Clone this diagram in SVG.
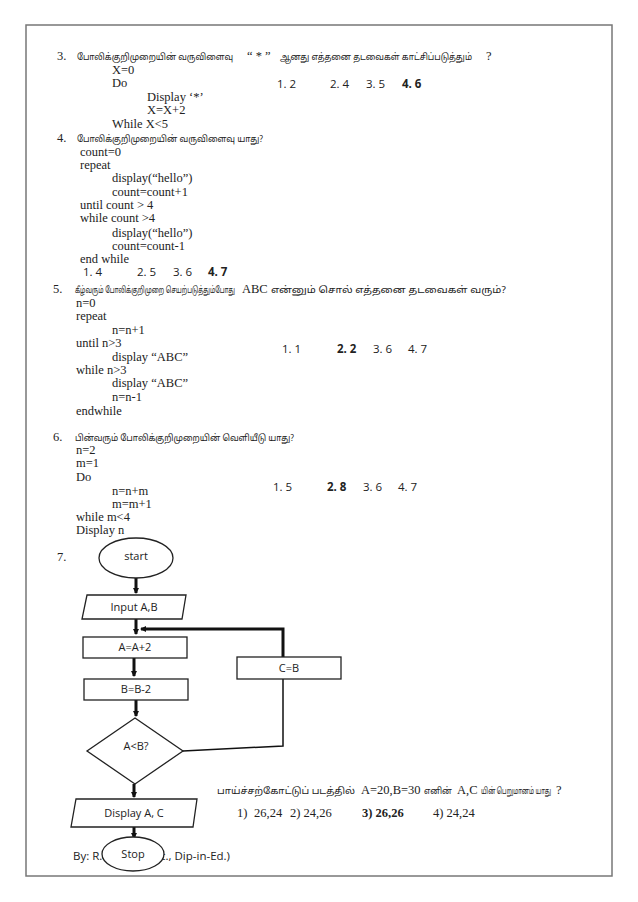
<svg xmlns="http://www.w3.org/2000/svg" width="638" height="902" viewBox="0 0 638 902">
<style>
.t{font-family:"Liberation Serif","Noto Sans Tamil","Noto Sans",serif;font-size:12.5px;fill:#222}
.ta{font-family:"Noto Sans Tamil","Noto Sans","DejaVu Sans",sans-serif;font-size:9.5px;fill:#222}
.o{font-family:"Open Sans","Liberation Sans",sans-serif;font-size:11.5px;fill:#222}
.b{font-weight:bold}
.f{font-family:"Open Sans","Liberation Sans",sans-serif;font-size:11px;fill:#222;text-anchor:middle;dominant-baseline:middle}
.n{fill:#fff;stroke:#222;stroke-width:1.3}
.c{stroke:#111;fill:none}
</style>
<defs><marker id="ah" markerWidth="6" markerHeight="6" refX="5" refY="3" orient="auto" markerUnits="userSpaceOnUse"><path d="M0,0L6,3L0,6z" fill="#111"/></marker></defs>
<rect x="26" y="25" width="586" height="851" fill="none" stroke="#777" stroke-width="1.5"/>
<g id="q3">
<text class="t" x="57" y="60">3.</text>
<text class="ta" x="77" y="60" textLength="156" lengthAdjust="spacingAndGlyphs">போலிக்குறிமுறையின் வருவிளைவு</text>
<text class="t" x="247" y="60">“ * ”</text>
<text class="ta" x="280" y="60" textLength="192" lengthAdjust="spacingAndGlyphs">ஆனது எத்தனை தடவைகள் காட்சிப்படுத்தும்</text>
<text class="t" x="486" y="60">?</text>
<text class="t" x="112" y="74">X=0</text>
<text class="t" x="112" y="87">Do</text>
<text class="t" x="147" y="101">Display ‘*’</text>
<text class="t" x="147" y="114">X=X+2</text>
<text class="t" x="112" y="128">While X&lt;5</text>
<text class="o" x="277" y="88">1.  2</text><text class="o" x="330" y="88">2. 4</text><text class="o" x="366" y="88">3.  5</text><text class="o b" x="402" y="88">4.  6</text>
</g>
<g id="q4">
<text class="t" x="57" y="142">4.</text>
<text class="ta" x="77" y="142" textLength="186" lengthAdjust="spacingAndGlyphs">போலிக்குறிமுறையின் வருவிளைவு யாது?</text>
<text class="t" x="80" y="156">count=0</text>
<text class="t" x="80" y="169">repeat</text>
<text class="t" x="112" y="182">display(“hello”)</text>
<text class="t" x="112" y="196">count=count+1</text>
<text class="t" x="80" y="209">until count &gt; 4</text>
<text class="t" x="80" y="222">while count &gt;4</text>
<text class="t" x="112" y="237">display(“hello”)</text>
<text class="t" x="112" y="250">count=count-1</text>
<text class="t" x="80" y="263">end while</text>
<text class="o" x="83" y="276">1.  4</text><text class="o" x="137" y="276">2. 5</text><text class="o" x="173" y="276">3.  6</text><text class="o b" x="208" y="276">4.  7</text>
</g>
<g id="q5">
<text class="t" x="53" y="293">5.</text>
<text class="ta" x="75" y="293" textLength="160" lengthAdjust="spacingAndGlyphs" font-size="8.5">கீழ்வரும் போலிக்குறிமுறை செயற்படுத்தும்போது</text>
<text class="t" x="242" y="293">ABC</text>
<text class="ta" x="271" y="293" textLength="235" lengthAdjust="spacingAndGlyphs">என்னும் சொல் எத்தனை தடவைகள் வரும்?</text>
<text class="t" x="76" y="307">n=0</text>
<text class="t" x="76" y="320">repeat</text>
<text class="t" x="112" y="334">n=n+1</text>
<text class="t" x="76" y="347">until n&gt;3</text>
<text class="t" x="112" y="361">display “ABC”</text>
<text class="t" x="76" y="374">while n&gt;3</text>
<text class="t" x="112" y="387">display “ABC”</text>
<text class="t" x="112" y="401">n=n-1</text>
<text class="t" x="76" y="415">endwhile</text>
<text class="o" x="282" y="353">1.  1</text><text class="o b" x="337" y="353">2. 2</text><text class="o" x="373" y="353">3.  6</text><text class="o" x="408" y="353">4.  7</text>
</g>
<g id="q6">
<text class="t" x="53" y="441">6.</text>
<text class="ta" x="75" y="441" textLength="219" lengthAdjust="spacingAndGlyphs">பின்வரும் போலிக்குறிமுறையின் வெளியீடு யாது?</text>
<text class="t" x="76" y="454">n=2</text>
<text class="t" x="76" y="467">m=1</text>
<text class="t" x="76" y="481">Do</text>
<text class="t" x="112" y="495">n=n+m</text>
<text class="t" x="112" y="508">m=m+1</text>
<text class="t" x="76" y="521">while m&lt;4</text>
<text class="t" x="76" y="534">Display n</text>
<text class="o" x="273" y="491">1.  5</text><text class="o b" x="327" y="491">2. 8</text><text class="o" x="363" y="491">3.  6</text><text class="o" x="398" y="491">4.  7</text>
</g>
<g id="q7">
<text class="t" x="57" y="561">7.</text>
<text class="ta" x="217" y="794" textLength="138" lengthAdjust="spacingAndGlyphs">பாய்ச்சற்கோட்டுப் படத்தில்</text>
<text class="t" x="361" y="794">A=20,B=30</text>
<text class="ta" x="424" y="794" textLength="28" lengthAdjust="spacingAndGlyphs">எனின்</text>
<text class="t" x="457" y="794">A,C</text>
<text class="ta" x="481" y="794" textLength="70" lengthAdjust="spacingAndGlyphs">யின் பெறுமானம் யாது</text>
<text class="t" x="556" y="794">?</text>
<text class="t" x="237" y="817" font-size="11">1)</text>
<text class="t" x="254" y="817">26,24</text><text class="t" x="290" y="817">2) 24,26</text>
<text class="t b" x="362" y="817">3) 26,26</text><text class="t" x="433" y="817">4) 24,24</text>
<text class="o" x="73" y="860">By: R.L</text><text class="o" x="160" y="860">c., Dip-in-Ed.)</text>
</g>
<g id="connectors">
<path class="c" stroke-width="3" d="M136,578V593" marker-end="url(#ah)"/>
<path class="c" stroke-width="3" d="M136,619V634" marker-end="url(#ah)"/>
<path class="c" stroke-width="3" d="M134,658V676" marker-end="url(#ah)"/>
<path class="c" stroke-width="3" d="M136,700V716" marker-end="url(#ah)"/>
<path class="c" stroke-width="3" d="M134,784V797" marker-end="url(#ah)"/>
<path class="c" stroke-width="3" d="M134,827V838" marker-end="url(#ah)"/>
<path class="c" stroke-width="3" d="M283,657V629H141" marker-end="url(#ah)"/>
<path class="c" stroke-width="1.5" d="M283,679V746L183,751"/>
</g>
<g id="start"><ellipse class="n" cx="136" cy="558" rx="37" ry="20"/><text class="f" x="136" y="557" font-size="9">start</text></g>
<g id="input"><polygon class="n" points="87,595 186,595 182,619 82,619"/><text class="f" x="134" y="608" font-size="9.5">Input A,B</text></g>
<g id="a"><rect class="n" x="83" y="637" width="104" height="21"/><text class="f" x="135" y="648">A=A+2</text></g>
<g id="b"><rect class="n" x="84" y="679" width="104" height="21"/><text class="f" x="136" y="690">B=B-2</text></g>
<g id="c"><rect class="n" x="237" y="657" width="104" height="22"/><text class="f" x="289" y="669">C=B</text></g>
<g id="dec"><polygon class="n" points="135,718 183,751 135,784 87,751"/><text class="f" x="136" y="747">A&lt;B?</text></g>
<g id="display"><polygon class="n" points="76,799 197,799 193,827 71,827"/><text class="f" x="134" y="814">Display A, C</text></g>
<g id="stop"><ellipse class="n" cx="133" cy="854" rx="31" ry="17"/><text class="f" x="133" y="855">Stop</text></g>
</svg>
